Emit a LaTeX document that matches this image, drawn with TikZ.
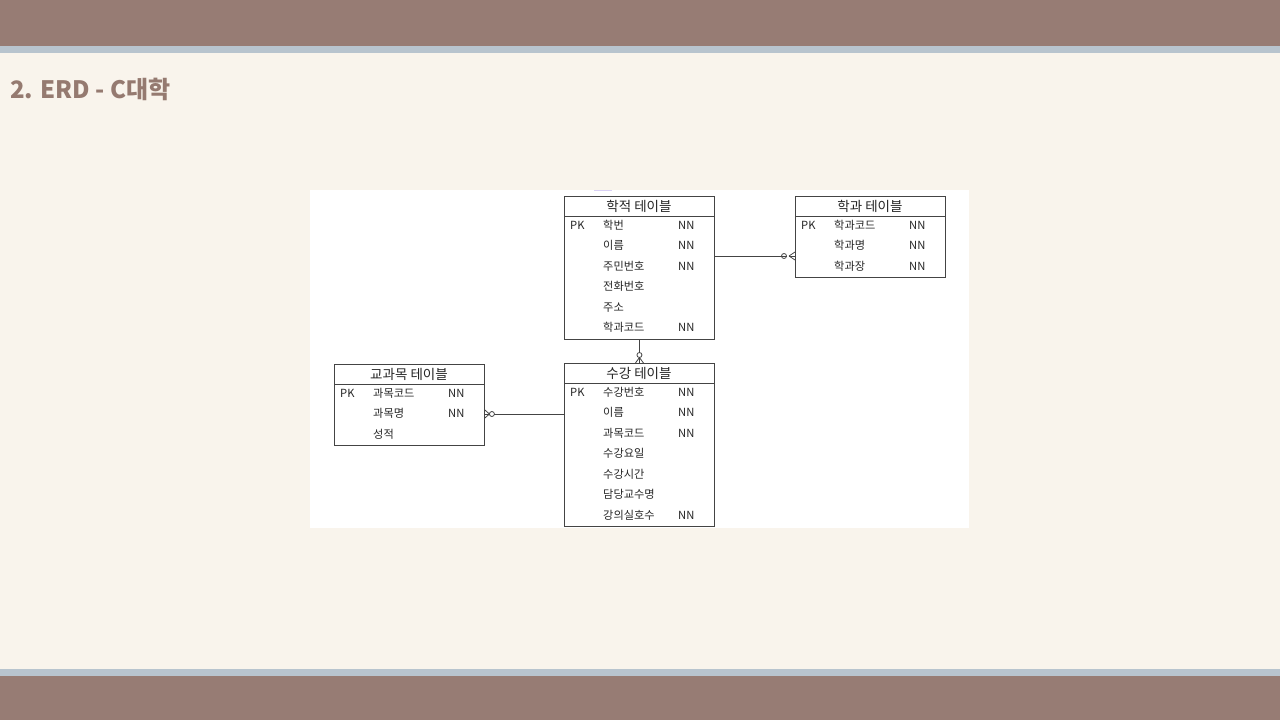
\documentclass[tikz,border=0pt]{standalone}
\usepackage{fontspec}
\usetikzlibrary{calc}
\setmainfont{Noto Sans CJK KR}
\newfontfamily\titlefont{Noto Sans CJK KR}
\definecolor{bandbrown}{HTML}{977C74}
\definecolor{bandblue}{HTML}{B8C4CE}
\definecolor{cream}{HTML}{F9F4EC}
\definecolor{titlebrown}{HTML}{957A70}
\definecolor{linegray}{HTML}{444444}
\definecolor{lav}{HTML}{D8D0F4}
\begin{document}
\begin{tikzpicture}[x=1pt,y=-1pt,
  tbl/.style={draw=linegray, line width=0.9pt, anchor=north west, minimum width=150pt, inner sep=0pt},
  hdr/.style={anchor=center, font=\fontsize{13.5}{14}\selectfont, text=black!85},
  cell/.style={anchor=west, font=\fontsize{11.2}{12}\selectfont, text=black!85, inner sep=0pt, yshift=-1.5pt},
  rel/.style={draw=linegray, line width=0.8pt},
]
\useasboundingbox (0,0) rectangle (1280,720);
\fill[cream] (0,0) rectangle (1280,720);
\fill[bandbrown] (0,0) rectangle (1280,46);
\fill[bandblue] (0,46) rectangle (1280,53);
\fill[bandblue] (0,669) rectangle (1280,676);
\fill[bandbrown] (0,676) rectangle (1280,720);
\node[anchor=west, text=titlebrown, font=\titlefont\bfseries\fontsize{24}{26}\selectfont, inner sep=0pt] (title) at (10,89) {2. ERD - C대학};
\fill[white] (310,190) rectangle (969,528);
\fill[lav] (594,189.5) rectangle (612,191);

% 학적 테이블
\node[tbl, minimum height=143pt] (hj) at (564,196) {};
\draw[linegray, line width=0.9pt] (564,216) -- (714,216);
\node[hdr] (hjh) at (639,206) {학적 테이블};
\node[cell] (hj0p) at (570,224) {PK};
\node[cell] (hj0) at (603,224) {학번};   \node[cell] (hj0n) at (678,224) {NN};
\node[cell] (hj1) at (603,244) {이름};   \node[cell] (hj1n) at (678,244) {NN};
\node[cell] (hj2) at (603,265) {주민번호}; \node[cell] (hj2n) at (678,265) {NN};
\node[cell] (hj3) at (603,285) {전화번호};
\node[cell] (hj4) at (603,306) {주소};
\node[cell] (hj5) at (603,326) {학과코드}; \node[cell] (hj5n) at (678,326) {NN};

% 학과 테이블
\node[tbl, minimum height=81pt] (hg) at (795,196) {};
\draw[linegray, line width=0.9pt] (795,216) -- (945,216);
\node[hdr] (hgh) at (870,206) {학과 테이블};
\node[cell] (hg0p) at (801,224) {PK};
\node[cell] (hg0) at (834,224) {학과코드}; \node[cell] (hg0n) at (909,224) {NN};
\node[cell] (hg1) at (834,244) {학과명};   \node[cell] (hg1n) at (909,244) {NN};
\node[cell] (hg2) at (834,265) {학과장};   \node[cell] (hg2n) at (909,265) {NN};

% 교과목 테이블
\node[tbl, minimum height=81pt] (gg) at (334,364) {};
\draw[linegray, line width=0.9pt] (334,384) -- (484,384);
\node[hdr] (ggh) at (409,374) {교과목 테이블};
\node[cell] (gg0p) at (340,392) {PK};
\node[cell] (gg0) at (373,392) {과목코드}; \node[cell] (gg0n) at (448,392) {NN};
\node[cell] (gg1) at (373,412) {과목명};   \node[cell] (gg1n) at (448,412) {NN};
\node[cell] (gg2) at (373,433) {성적};

% 수강 테이블
\node[tbl, minimum height=163pt] (sg) at (564,363) {};
\draw[linegray, line width=0.9pt] (564,383) -- (714,383);
\node[hdr] (sgh) at (639,373) {수강 테이블};
\node[cell] (sg0p) at (570,391) {PK};
\node[cell] (sg0) at (603,391) {수강번호}; \node[cell] (sg0n) at (678,391) {NN};
\node[cell] (sg1) at (603,411) {이름};     \node[cell] (sg1n) at (678,411) {NN};
\node[cell] (sg2) at (603,432) {과목코드}; \node[cell] (sg2n) at (678,432) {NN};
\node[cell] (sg3) at (603,452) {수강요일};
\node[cell] (sg4) at (603,473) {수강시간};
\node[cell] (sg5) at (603,493) {담당교수명};
\node[cell] (sg6) at (603,514) {강의실호수}; \node[cell] (sg6n) at (678,514) {NN};

% connection points
\coordinate (a1) at (hj.north east |- 0,256);
\coordinate (a2) at (hg.north west |- 0,256);
\coordinate (b1) at (hj.south);
\coordinate (b2) at (sg.north);
\coordinate (c1) at (sg.north west |- 0,414);
\coordinate (c2) at (gg.north east |- 0,414);

% 학적 -> 학과
\draw[rel] (a1) -- ($(a2)+(-8.5,0)$);
\draw[rel] ($(a2)+(-8.5,0)$) ++(-2.5,0) circle[radius=2.5];
\draw[rel] ($(a2)+(-6,0)$) -- ($(a2)+(0,-4)$);
\draw[rel] ($(a2)+(-6,0)$) -- (a2);
\draw[rel] ($(a2)+(-6,0)$) -- ($(a2)+(0,4)$);

% 학적 -> 수강
\draw[rel] (b1) -- ($(b2)+(0,-10.5)$);
\draw[rel] ($(b2)+(0,-8)$) circle[radius=2.5];
\draw[rel] ($(b2)+(0,-5.5)$) -- ($(b2)+(-4,0)$);
\draw[rel] ($(b2)+(0,-5.5)$) -- (b2);
\draw[rel] ($(b2)+(0,-5.5)$) -- ($(b2)+(4,0)$);

% 수강 -> 교과목
\draw[rel] (c1) -- ($(c2)+(9.5,0)$);
\draw[rel] ($(c2)+(7,0)$) circle[radius=2.5];
\draw[rel] ($(c2)+(4.5,0)$) -- ($(c2)+(0,-4)$);
\draw[rel] ($(c2)+(4.5,0)$) -- (c2);
\draw[rel] ($(c2)+(4.5,0)$) -- ($(c2)+(0,4)$);
\end{tikzpicture}
\end{document}
